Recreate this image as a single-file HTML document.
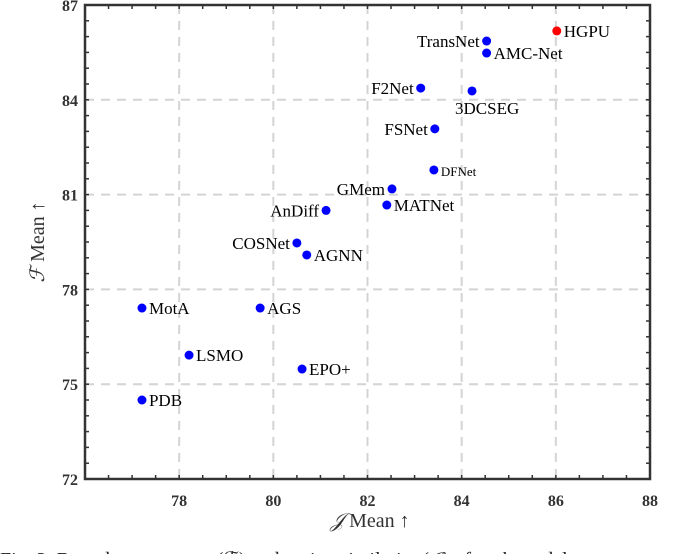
<!DOCTYPE html>
<html><head><meta charset="utf-8"><style>
body{margin:0;background:#fff;width:694px;height:554px;overflow:hidden}
svg text{font-family:"Liberation Serif","DejaVu Serif",serif}
</style></head><body>
<svg width="694" height="554" id="c">
</svg>
<script>
const names=["HGPU","TransNet","AMC-Net","3DCSEG","F2Net","FSNet","DFNet","GMem","MATNet","AnDiff","COSNet","AGNN","MotA","AGS","LSMO","EPO+","PDB"];
const jVals=[86.02,84.53,84.53,84.22,83.13,83.43,83.41,82.52,82.41,81.12,80.5,80.71,77.21,79.72,78.21,80.61,77.21];
const fVals=[86.18,85.86,85.48,84.28,84.37,83.08,81.78,81.18,80.67,80.5,79.47,79.09,77.41,77.41,75.92,75.48,74.5];
const labelPos=["r","l","r","b","l","l","r","l","r","l","l","r","r","r","r","r","r"];
const xTicks=[78,80,82,84,86,88];
const yTicks=[72,75,78,81,84,87];
const NS="http://www.w3.org/2000/svg",svg=document.getElementById('c');
const L=85,R=650,T=5,B=479;
const x=v=>L+(v-76)/12*(R-L), y=v=>B-(v-72)/15*(B-T);
function mk(t,a,p){const e=document.createElementNS(NS,t);for(const k in a)e.setAttribute(k,a[k]);(p||svg).appendChild(e);return e;}
xTicks.forEach(v=>{if(v<88){const g=mk('line',{x1:x(v),x2:x(v),y1:T,y2:B,stroke:'#d4d4d4','stroke-width':2,'stroke-dasharray':'9,7'});}
 const t=mk('text',{x:x(v),y:B+27,'text-anchor':'middle','font-size':16,'font-weight':'bold',fill:'#333'});t.textContent=v;
 });
yTicks.forEach(v=>{if(v>72&&v<87){const g=mk('line',{x1:L,x2:R,y1:y(v),y2:y(v),stroke:'#d4d4d4','stroke-width':2,'stroke-dasharray':'9,7'});}
 const t=mk('text',{x:L-7,y:y(v)+6,'text-anchor':'end','font-size':16,'font-weight':'bold',fill:'#333'});t.textContent=v;
 });
for(let v=76.5;v<88;v+=0.5){mk('line',{x1:x(v),x2:x(v),y1:B,y2:B-4,stroke:'#333','stroke-width':1.5});mk('line',{x1:x(v),x2:x(v),y1:T,y2:T+4,stroke:'#333','stroke-width':1.5});}
for(let v=72.5;v<87;v+=0.5){mk('line',{x1:L,x2:L+4,y1:y(v),y2:y(v),stroke:'#333','stroke-width':1.5});mk('line',{x1:R,x2:R-4,y1:y(v),y2:y(v),stroke:'#333','stroke-width':1.5});}
const box=mk('rect',{x:L,y:T,width:R-L,height:B-T,fill:'none',stroke:'#333','stroke-width':2.5});

names.forEach((n,i)=>{const cx=x(jVals[i]),cy=y(fVals[i]);
 const d=mk('circle',{cx:cx,cy:cy,r:4.5,fill:n==='HGPU'?'#f00':'#00f'});
 
 
 const p=labelPos[i];const fs=n==='DFNet'?13:17;
 const a=p==='r'?{x:cx+7,y:cy+6,'text-anchor':'start'}:p==='l'?{x:cx-7,y:cy+6,'text-anchor':'end'}:{x:cx-17,y:cy+23,'text-anchor':'start'};
 a['font-size']=fs;a.fill='#000';
 const t=mk('text',a);t.textContent=n;
 });
const xl=mk('text',{x:370,y:527,'text-anchor':'middle','font-size':20,fill:'#333'});xl.innerHTML='<tspan font-style="italic">𝒥</tspan> Mean ↑';

const yl=mk('text',{x:0,y:0,'text-anchor':'middle','font-size':20,fill:'#333',transform:'translate(44,242) rotate(-90)'});yl.innerHTML='<tspan font-style="italic">ℱ</tspan> Mean ↑';

const cap=mk('text',{x:0,y:566,'font-size':20,fill:'#222'});cap.textContent='Fig. 2.   Boundary accuracy (ℱ) and region similarity (𝒥) of each model on';

</script>
</body></html>
